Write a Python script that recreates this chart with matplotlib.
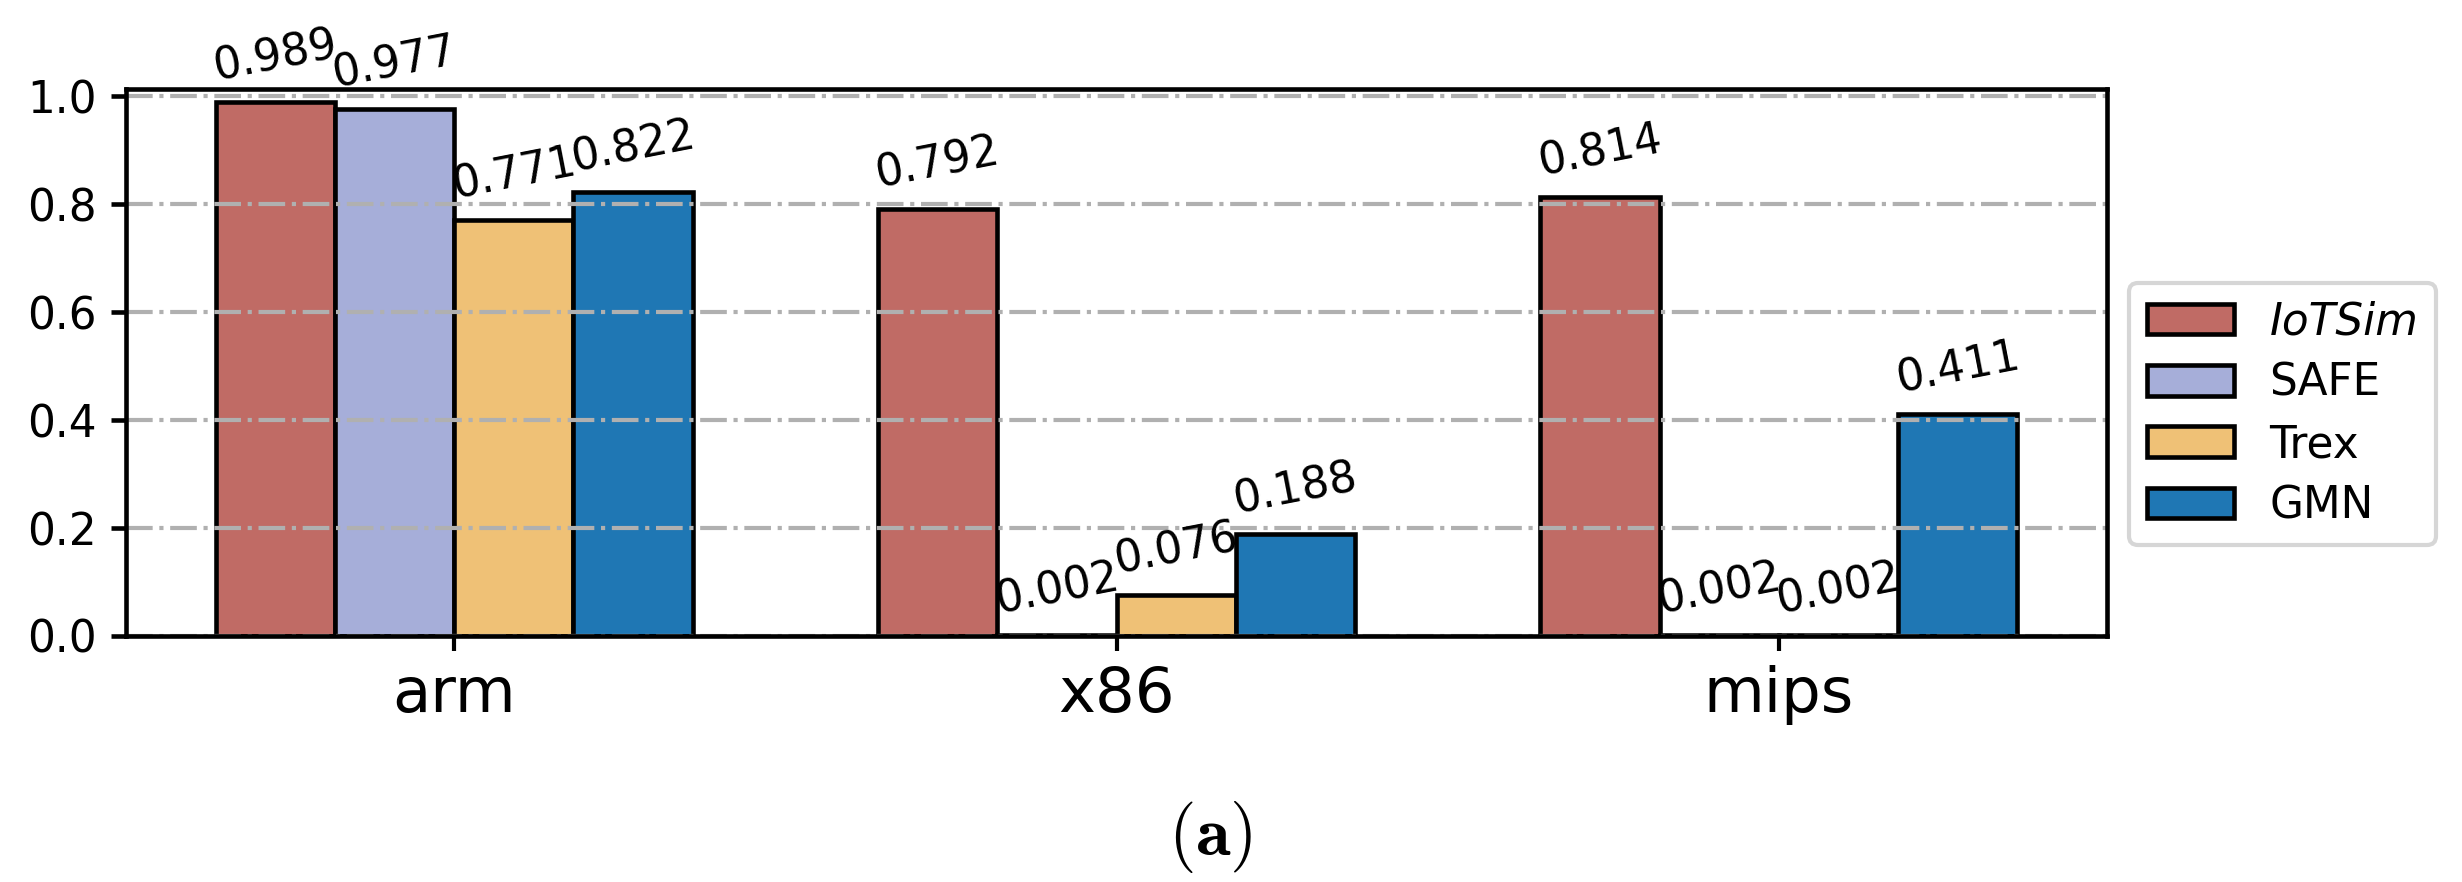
import numpy as np
import matplotlib.pyplot as plt

## data
archs = ['arm', 'x86', 'mips']
methods = ['IoTSim', 'SAFE', 'Trex', 'GMN']
iotsim = [0.989, 0.792, 0.814]
safe = [0.977, 0.002, 0.002]
trex = [0.771, 0.076, 0.002]
gmn = [0.822, 0.188, 0.411]
colors = ['#c06b65', '#a6aed9', '#efc176', '#1f77b4']

plt.rcParams['mathtext.fontset'] = 'cm'

fig = plt.figure(figsize=(2462/300, 882/300), dpi=300)
ax = fig.add_axes([0.051, 0.279, 0.805, 0.62])

x = np.arange(len(archs))
w = 0.18
for k, vals in enumerate([iotsim, safe, trex, gmn]):
    bars = ax.bar(x + (k - 1.5)*w, vals, w, color=colors[k], edgecolor='black',
                  linewidth=1.1, label=methods[k])
    for b, v in zip(bars, vals):
        ax.annotate('%.3f' % v, (b.get_x() + b.get_width()/2, v),
                    xytext=(0, 3), textcoords='offset points',
                    ha='center', va='bottom', rotation=11, fontsize=10.5)

ax.set_ylim(0, 1.0135)
ax.set_xticks(x, archs, fontsize=15)
ax.tick_params(axis='y', labelsize=10.5, width=1.1, length=3.5)
ax.tick_params(axis='x', width=1, length=3.5)
ax.grid(axis='y', linestyle='-.', color='#b0b0b0', linewidth=1)
for s in ax.spines.values():
    s.set_linewidth(1.1)

leg = ax.legend(loc='center left', bbox_to_anchor=(1.0, 0.406), fontsize=10.5,
                labelspacing=0.42)
leg.get_texts()[0].set_fontstyle('italic')

fig.text(0.4915, 0.051, r'$(\mathbf{a})$', ha='center', va='center', fontsize=17)

fig.savefig('out.png', dpi=300)
